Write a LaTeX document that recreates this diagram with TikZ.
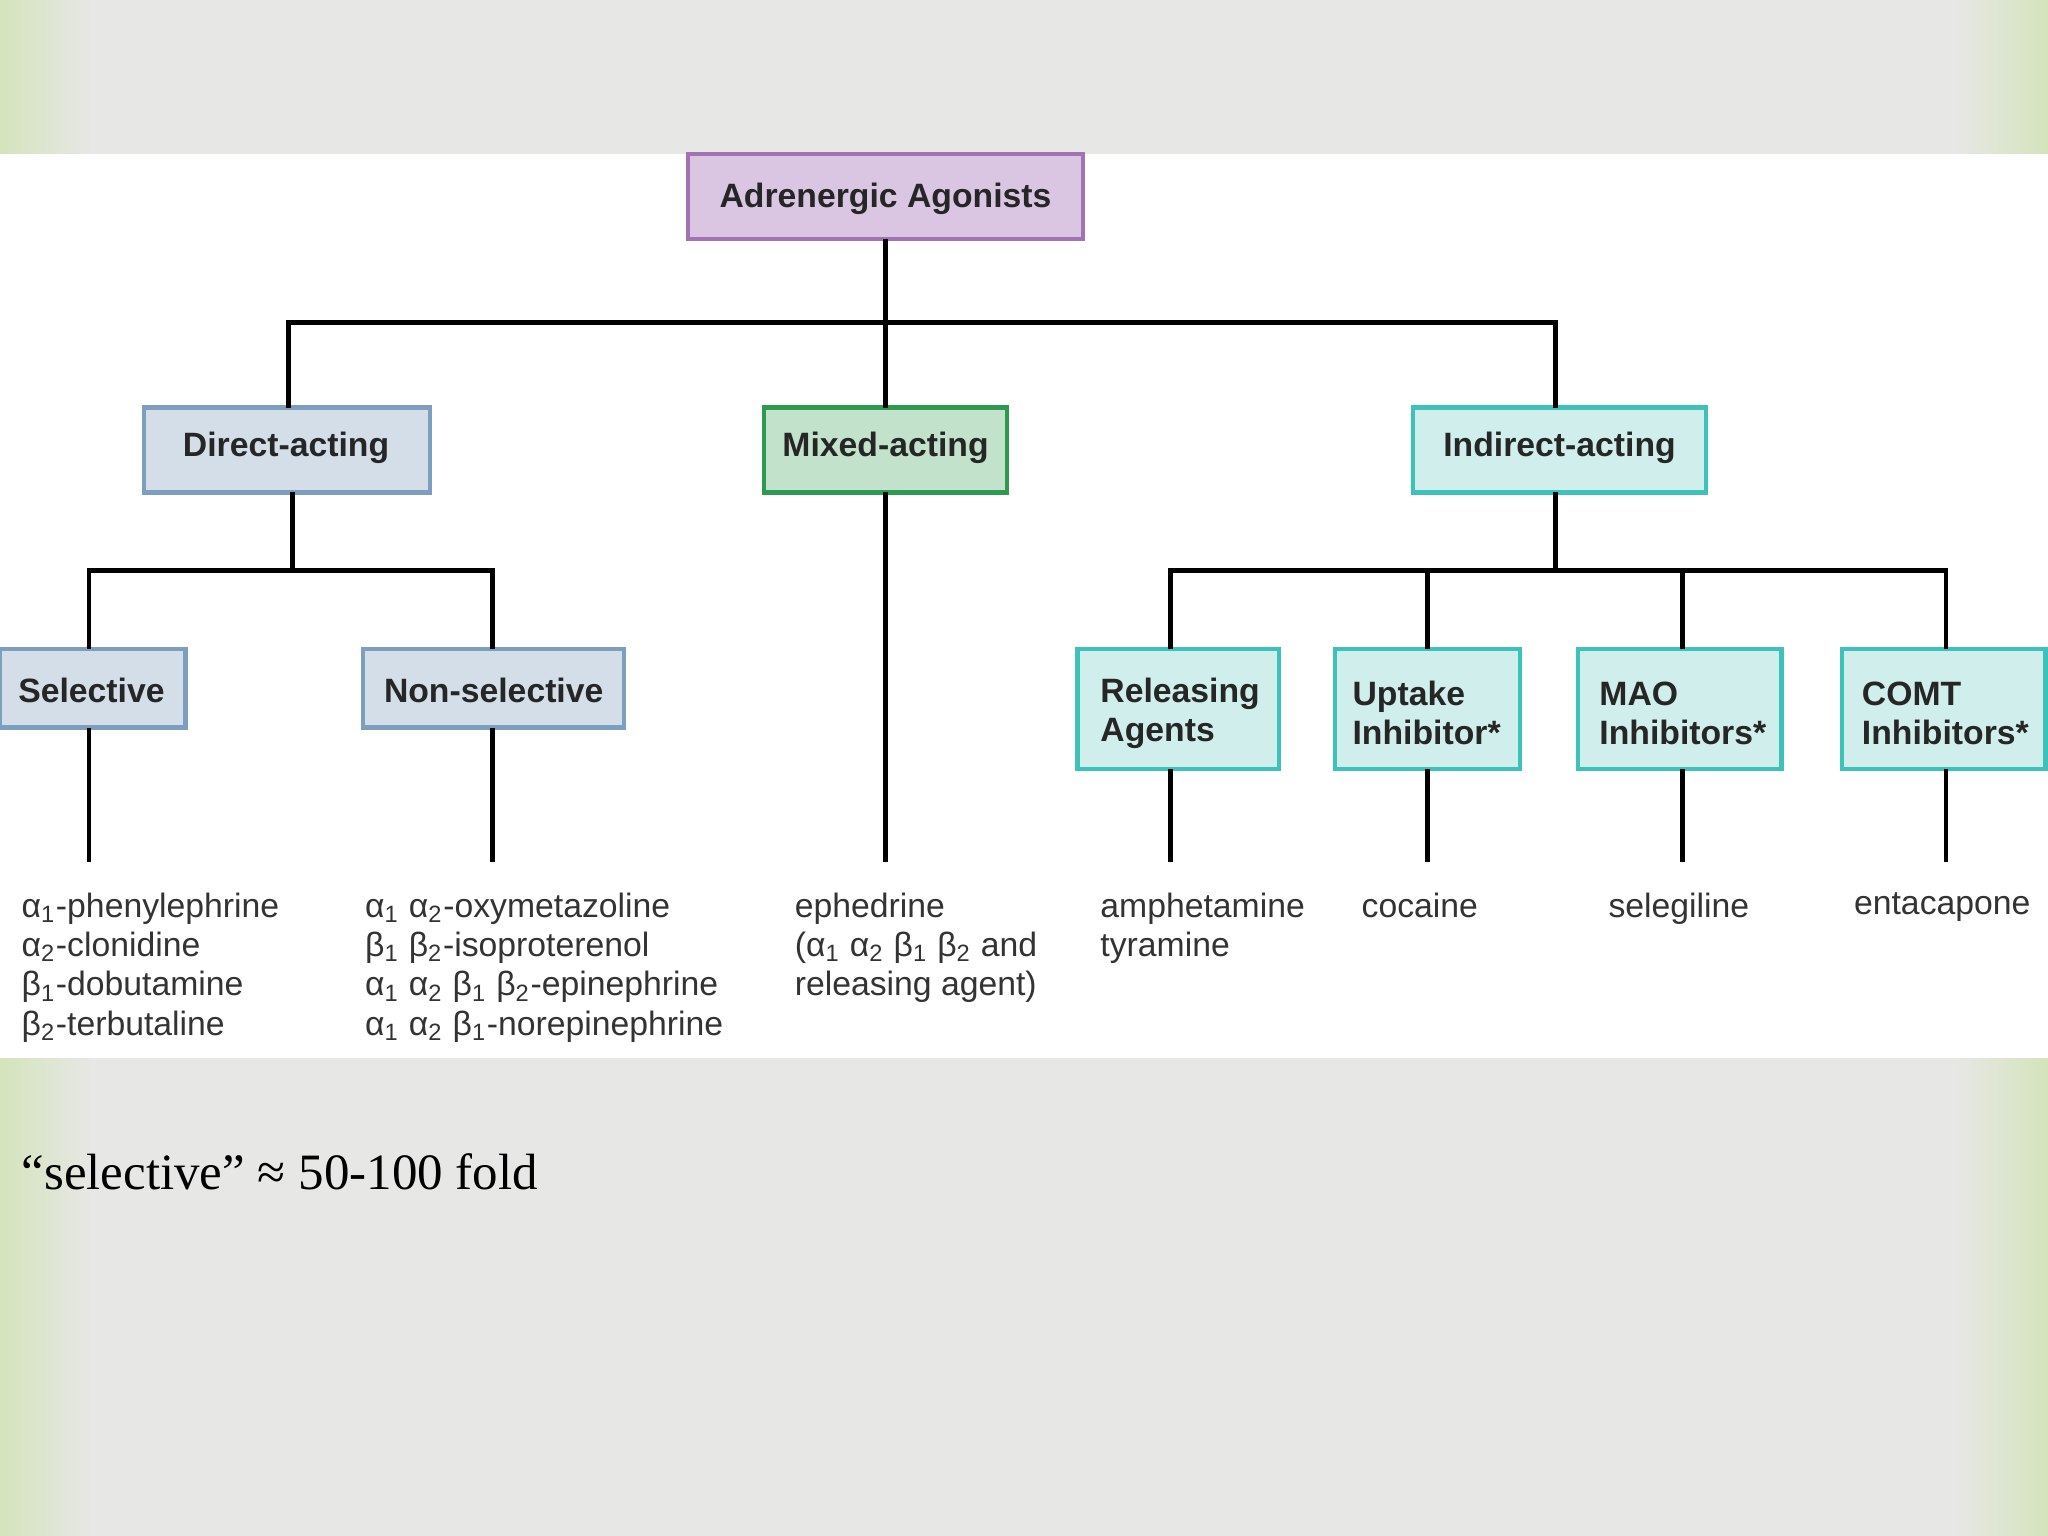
\documentclass[tikz,border=0pt]{standalone}
\usepackage{fontspec}
\setmainfont{Liberation Sans}
\newfontfamily\serifz{Liberation Serif}
\definecolor{bg}{HTML}{E7E7E5}
\definecolor{gr}{HTML}{D4E4BC}
\definecolor{dfill}{HTML}{D3DEE9}\definecolor{ddraw}{HTML}{7E9EBD}
\definecolor{mfill}{HTML}{C2E2CB}\definecolor{mdraw}{HTML}{2E9A50}
\definecolor{ifill}{HTML}{CFEEEC}\definecolor{idraw}{HTML}{3DC2B9}
\definecolor{rfill}{HTML}{DAC6E3}\definecolor{rdraw}{HTML}{A173B3}
\begin{document}
\begin{tikzpicture}[x=0.01306cm,y=-0.01306cm,
 box/.style={draw,line width=1.2pt},
 bt/.style={inner sep=0,font=\bfseries\fontsize{9.6}{11.2}\selectfont,text=black!85},
 bt2/.style={bt,anchor=west,align=left},
 ln/.style={line width=1.3pt},
 lbl/.style={anchor=north west,align=left,inner sep=0,font=\fontsize{9.6}{11.2}\selectfont,text=black!80}]
\useasboundingbox (0,0) rectangle (1568,1176);
\fill[bg] (0,0) rectangle (1568,1176);
\shade[left color=gr,right color=bg] (0,0) rectangle (70,1176);
\shade[left color=bg,right color=gr] (1498,0) rectangle (1568,1176);
\fill[white] (0,118) rectangle (1568,810);
% boxes
\path[box,fill=rfill,draw=rdraw] (527,118) rectangle (829,183); \node[bt] (root) at (678,152) {Adrenergic Agonists};
\path[box,fill=dfill,draw=ddraw] (110,312) rectangle (329,377); \node[bt] (dir) at (219,343) {Direct-acting};
\path[box,fill=mfill,draw=mdraw] (585,312) rectangle (771,377); \node[bt] (mix) at (678,343) {Mixed-acting};
\path[box,fill=ifill,draw=idraw] (1082,312) rectangle (1306,377); \node[bt] (ind) at (1194,343) {Indirect-acting};
\path[box,fill=dfill,draw=ddraw] (0,497) rectangle (142,557); \node[bt] (sel) at (70,529) {Selective};
\path[box,fill=dfill,draw=ddraw] (278,497) rectangle (478,557); \node[bt] (non) at (378,529) {Non-selective};
\path[box,fill=ifill,draw=idraw] (825,497) rectangle (979,589); \node[bt2] (rel) at (842,546) {Releasing\\Agents};
\path[box,fill=ifill,draw=idraw] (1022,497) rectangle (1164,589); \node[bt2] (upt) at (1035,546) {Uptake\\Inhibitor*};
\path[box,fill=ifill,draw=idraw] (1208,497) rectangle (1364,589); \node[bt2] (mao) at (1224,546) {MAO\\Inhibitors*};
\path[box,fill=ifill,draw=idraw] (1410,497) rectangle (1566,589); \node[bt2] (comt) at (1425,546) {COMT\\Inhibitors*};
% lines
\draw[ln] (678,183) -- (678,312);
\draw[ln] (221,312) |- (1191,247) -- (1191,312);
\draw[ln] (224,377) -- (224,437);
\draw[ln] (68,497) |- (377,437) -- (377,497);
\draw[ln] (68,557) -- (68,660);
\draw[ln] (377,557) -- (377,660);
\draw[ln] (678,377) -- (678,660);
\draw[ln] (1191,377) -- (1191,437);
\draw[ln] (896,497) |- (1490,437) -- (1490,497);
\draw[ln] (1093,437) -- (1093,497);
\draw[ln] (1288,437) -- (1288,497);
\foreach \x in {896,1093,1288,1490} \draw[ln] (\x,589) -- (\x,660);
% labels
\node[lbl] (t1) at (16,683) {α\textsubscript{1}-phenylephrine\\α\textsubscript{2}-clonidine\\β\textsubscript{1}-dobutamine\\β\textsubscript{2}-terbutaline};
\node[lbl] (t2) at (279,683) {α\textsubscript{1} α\textsubscript{2}-oxymetazoline\\β\textsubscript{1} β\textsubscript{2}-isoproterenol\\α\textsubscript{1} α\textsubscript{2} β\textsubscript{1} β\textsubscript{2}-epinephrine\\α\textsubscript{1} α\textsubscript{2} β\textsubscript{1}-norepinephrine};
\node[lbl] (t3) at (608,683) {ephedrine\\(α\textsubscript{1} α\textsubscript{2} β\textsubscript{1} β\textsubscript{2} and\\releasing agent)};
\node[lbl] (t4) at (842,683) {amphetamine\\tyramine};
\node[lbl] (t5) at (1042,683) {cocaine};
\node[lbl] (t6) at (1231,683) {selegiline};
\node[lbl] (t7) at (1419,683) {entacapone};
\node[anchor=west,inner sep=0,font=\serifz\fontsize{14.5}{16}\selectfont] (note) at (16,897) {“selective” ≈ 50-100 fold};
\end{tikzpicture}
\end{document}
